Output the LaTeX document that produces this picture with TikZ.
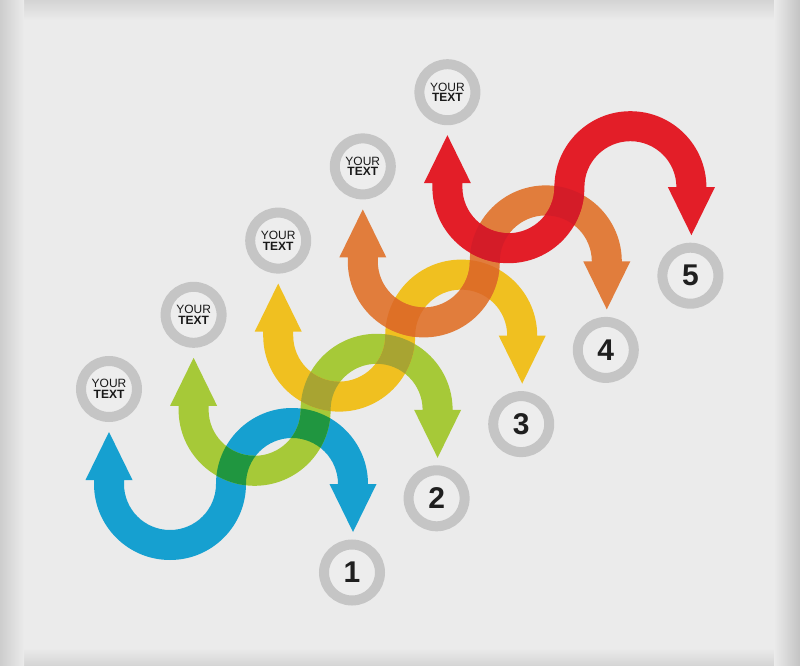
\documentclass[tikz,border=0pt]{standalone}
\usepackage{fontspec}
\setmainfont{Liberation Sans}
\definecolor{bgc}{RGB}{235,235,235}
\definecolor{edgec}{RGB}{205,205,205}
\definecolor{edger}{RGB}{195,195,195}
\definecolor{edgetb}{RGB}{212,212,212}
\definecolor{ringc}{RGB}{197,197,197}
\definecolor{innerc}{RGB}{237,237,237}
\definecolor{cblue}{RGB}{22,160,208}
\definecolor{cgreen}{RGB}{166,201,56}
\definecolor{cyellow}{RGB}{240,192,32}
\definecolor{corange}{RGB}{225,125,60}
\definecolor{cred}{RGB}{227,30,40}
\definecolor{ovA}{RGB}{32,150,64}
\definecolor{ovB}{RGB}{168,164,50}
\definecolor{ovC}{RGB}{222,112,38}
\definecolor{ovD}{RGB}{212,28,40}
\tikzset{
  ring/.style={circle, draw=ringc, line width=10pt, fill=innerc, minimum size=56pt, inner sep=0pt},
  yourtext/.style={align=center, font=\fontsize{12}{10.5}\selectfont, text=black!90},
  numtext/.style={font=\fontsize{30}{30}\selectfont\bfseries, text=black!88}
}
\newcommand\spath[2]{({#1-76},{#2-4}) -- ({#1-84.5},{#2-4}) -- ({#1-61},{#2-52}) -- ({#1-37.5},{#2-4}) -- ({#1-46},{#2-4}) -- ({#1-46},{#2})
    arc[start angle=180,end angle=0,radius=46]
    arc[start angle=180,end angle=360,radius=76]
    -- ({#1+206.5},{#2}) -- ({#1+183},{#2+48}) -- ({#1+159.5},{#2}) -- ({#1+168},{#2})
    arc[start angle=0,end angle=-180,radius=46]
    arc[start angle=0,end angle=180,radius=76] -- cycle}
\begin{document}
\begin{tikzpicture}[x=1pt,y=1pt,yscale=-1]
\useasboundingbox (0,0) rectangle (800,666);
\fill[bgc] (0,0) rectangle (800,666);
\shade[top color=bgc, bottom color=edgetb] (0,648) rectangle (800,666);
\shade[top color=edgetb, bottom color=bgc] (0,0) rectangle (800,20);
\shade[left color=edgec, right color=bgc] (0,0) rectangle (24,666);
\shade[left color=bgc, right color=edger] (774,0) rectangle (800,666);
% arrows
\foreach \k/\col in {0/cblue,1/cgreen,2/cyellow,3/corange,4/cred}{
  \pgfmathsetmacro\ax{170+84.6*\k}
  \pgfmathsetmacro\ay{484-74.2*\k}
  \fill[\col] \spath{\ax}{\ay};
}
% overlaps of neighbouring arrows
\foreach \k/\col in {0/ovA,1/ovB,2/ovC,3/ovD}{
  \pgfmathsetmacro\ax{170+84.6*\k}
  \pgfmathsetmacro\ay{484-74.2*\k}
  \pgfmathsetmacro\bx{170+84.6*(\k+1)}
  \pgfmathsetmacro\by{484-74.2*(\k+1)}
  \begin{scope}
    \clip \spath{\ax}{\ay};
    \fill[\col] \spath{\bx}{\by};
  \end{scope}
}
\foreach \k in {0,...,4}{
  \pgfmathsetmacro\tx{109+84.6*\k}
  \pgfmathsetmacro\ty{389-74.2*\k}
  \pgfmathsetmacro\nx{352+84.6*\k}
  \pgfmathsetmacro\ny{572.5-74.2*\k}
  \pgfmathtruncatemacro\num{\k+1}
  \node[ring] (t\k) at (\tx,\ty) {};
  \node[yourtext] (tl\k) at (t\k) {YOUR\\\textbf{TEXT}};
  \node[ring] (n\k) at (\nx,\ny) {};
  \node[numtext] (nl\k) at (n\k) {\num};
}
\end{tikzpicture}
\end{document}
